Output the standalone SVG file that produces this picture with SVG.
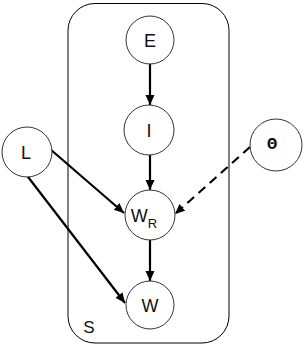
<svg xmlns="http://www.w3.org/2000/svg" width="304" height="356" viewBox="0 0 304 356">
<style>
.node{fill:#fff;stroke:#333;stroke-width:1}
.lbl{font-family:"Liberation Sans",Arial,sans-serif;font-size:18px;fill:#111;text-anchor:middle}
.edge{stroke:#000;stroke-width:2.2;fill:none}
.dash{stroke-dasharray:9,6}
</style>
<defs>
<marker id="ah" markerUnits="userSpaceOnUse" markerWidth="10" markerHeight="10" refX="10" refY="5" orient="auto">
<path d="M0,0.5 L10,5 L0,9.5 z" fill="#000"/>
</marker>
</defs>
<rect x="68" y="3.5" width="161" height="339.5" rx="27" ry="27" fill="none" stroke="#000" stroke-width="1"/>
<text x="89" y="333" class="lbl" style="font-size:17px">S</text>
<g id="connectors">
<line class="edge" x1="150" y1="63" x2="150" y2="105" marker-end="url(#ah)"/>
<line class="edge" x1="150" y1="155" x2="150" y2="190" marker-end="url(#ah)"/>
<line class="edge" x1="150" y1="240" x2="150" y2="281" marker-end="url(#ah)"/>
<line class="edge" x1="50" y1="149" x2="124" y2="213" marker-end="url(#ah)"/>
<line class="edge" x1="25" y1="173" x2="125" y2="303" marker-end="url(#ah)"/>
<line class="edge dash" x1="250" y1="147" x2="175" y2="214" marker-end="url(#ah)"/>
</g>
<g id="E"><circle class="node" cx="150" cy="40" r="24"/><text x="150" y="47" class="lbl">E</text></g>
<g id="I"><circle class="node" cx="149" cy="130" r="25"/><text x="149" y="137" class="lbl">I</text></g>
<g id="L"><circle class="node" cx="27" cy="152" r="25"/><text x="26" y="159" class="lbl">L</text></g>
<g id="Theta"><circle class="node" cx="276" cy="145" r="26"/><text x="272" y="149" class="lbl" style="font-family:'Liberation Mono','DejaVu Sans Mono',monospace;font-weight:bold;font-size:17px">Θ</text></g>
<g id="WR"><circle class="node" cx="150" cy="215" r="25"/><text x="144" y="222" class="lbl">W<tspan font-size="13" dy="6">R</tspan></text></g>
<g id="W"><circle class="node" cx="150" cy="305" r="24"/><text x="150" y="312" class="lbl">W</text></g>
</svg>
